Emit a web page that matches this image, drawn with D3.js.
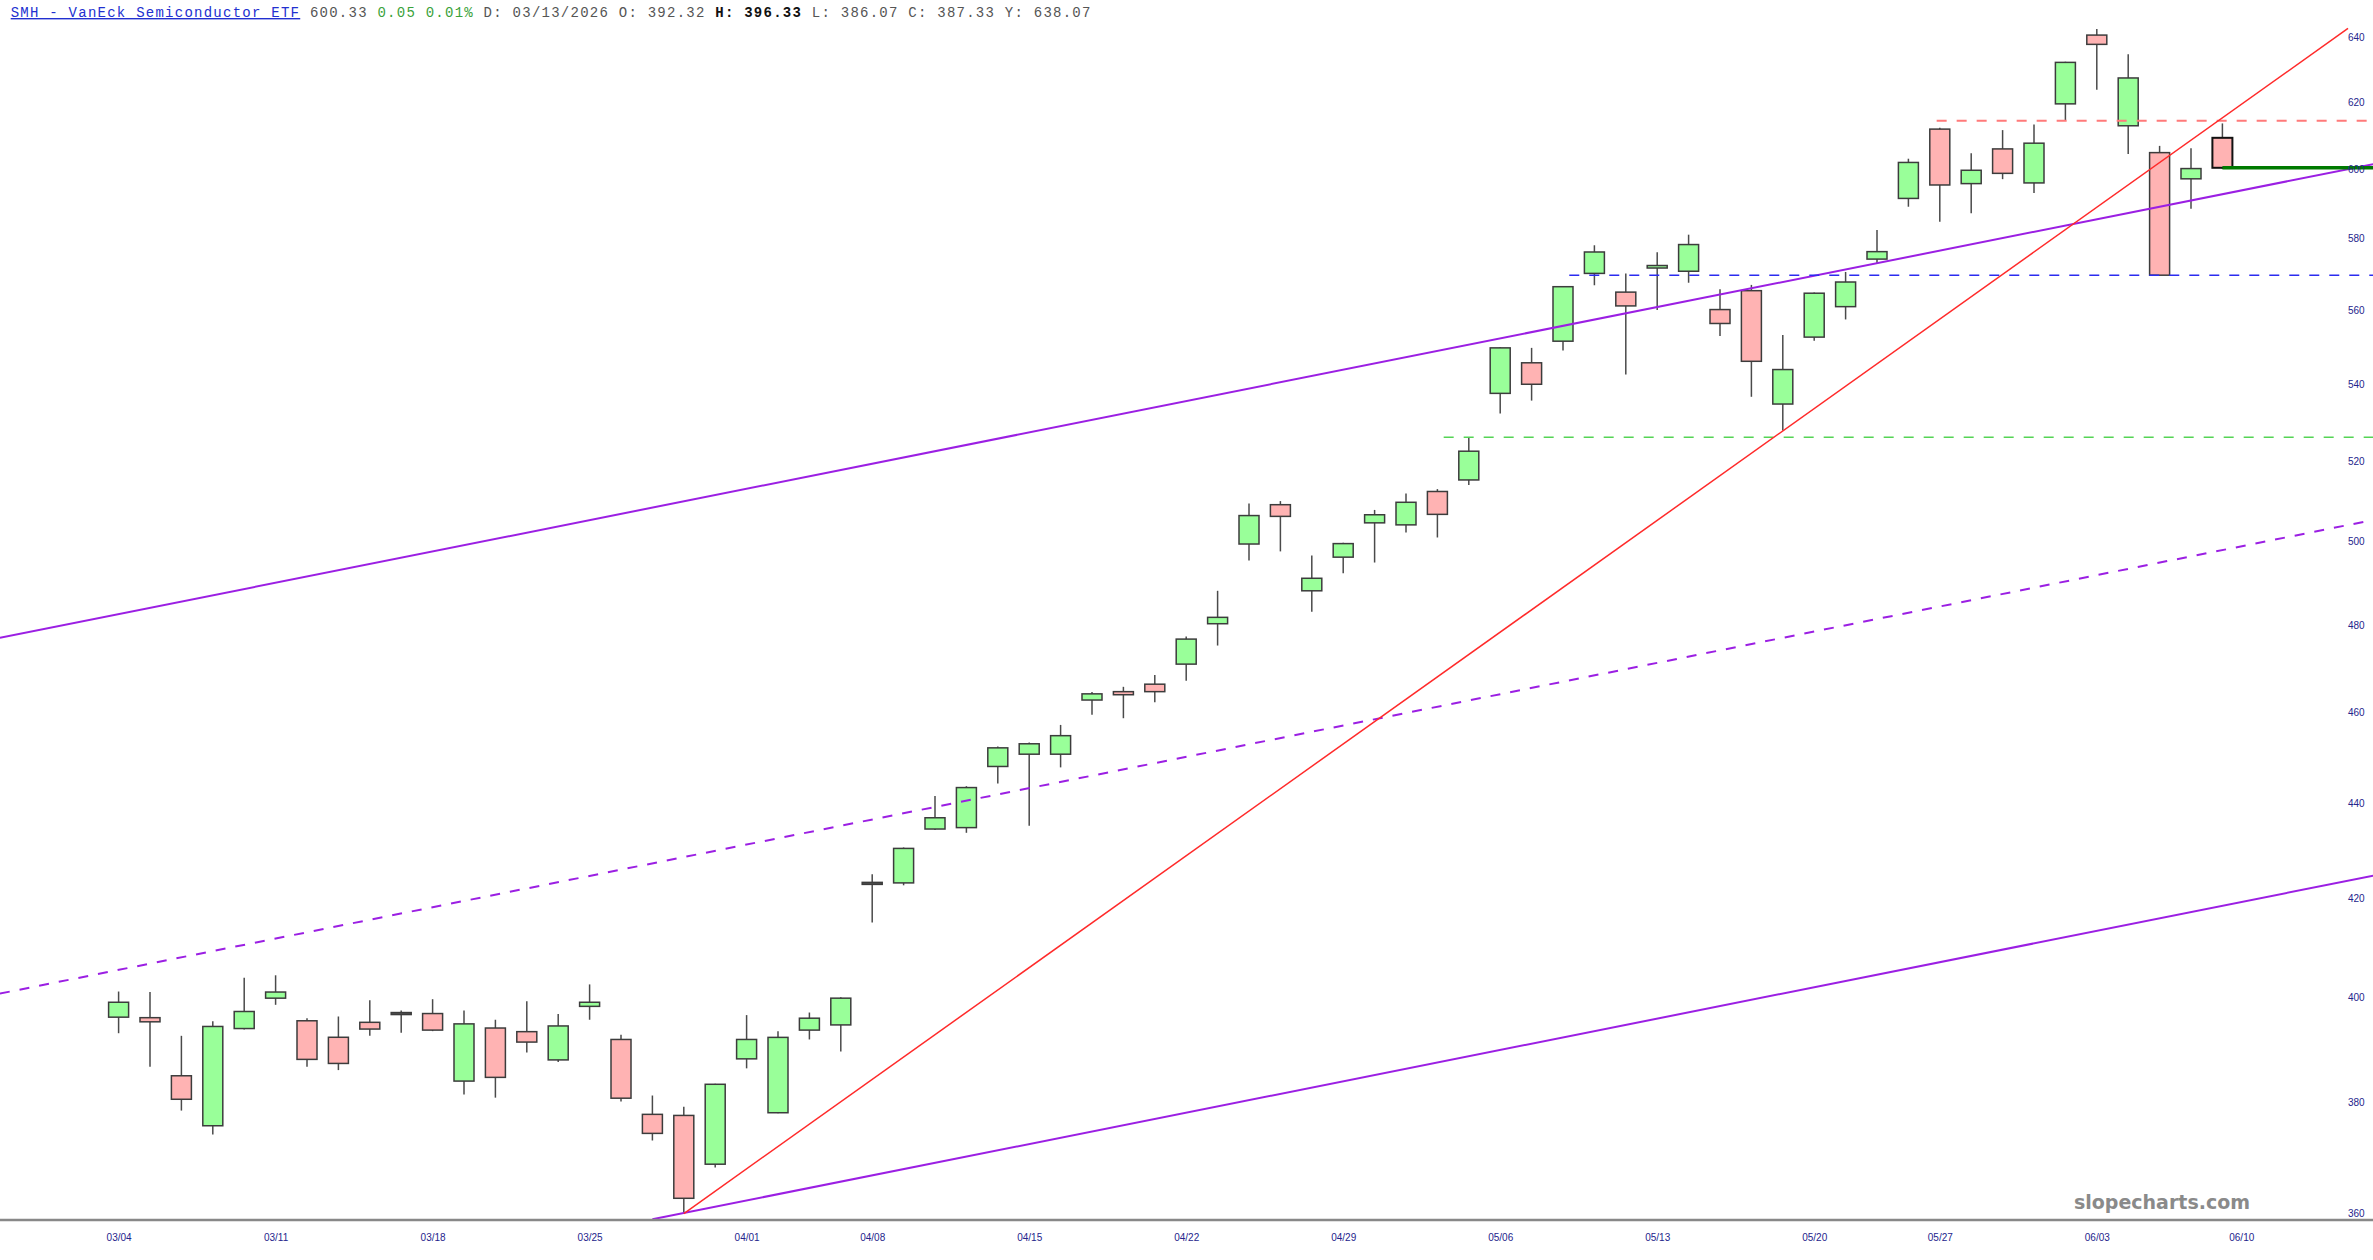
<!DOCTYPE html>
<html>
<head>
<meta charset="utf-8">
<script src="https://cdn.jsdelivr.net/npm/d3@7/dist/d3.min.js"></script>
<style>
  body { margin: 0; background: #fff; }
  svg { display: block; }
</style>
</head>
<body>
<div id="chart"></div>
<script>
// daily bars
var dates = ['03/04','03/05','03/06','03/09','03/10','03/11','03/12','03/13','03/16','03/17',
             '03/18','03/19','03/20','03/23','03/24','03/25','03/26','03/27','03/30','03/31',
             '04/01','04/02','04/06','04/07','04/08','04/09','04/10','04/13','04/14','04/15',
             '04/16','04/17','04/20','04/21','04/22','04/23','04/24','04/27','04/28','04/29',
             '04/30','05/01','05/04','05/05','05/06','05/07','05/08','05/11','05/12','05/13',
             '05/14','05/15','05/18','05/19','05/20','05/21','05/22','05/26','05/27','05/28',
             '05/29','06/01','06/02','06/03','06/04','06/05','06/08','06/09'];
var opens  = [396.2,396.1,385.0,375.7,394.0,399.9,395.5,392.32,395.2,397.1,
              396.9,384.0,394.1,393.4,388.0,398.3,391.9,377.8,377.6,368.7,
              388.2,378.1,393.7,394.7,423.0,423.1,434.4,434.7,447.9,450.6,
              450.6,462.7,464.6,466.3,470.9,480.3,499.4,509.1,488.1,496.2,
              504.6,504.1,512.4,515.3,537.6,545.7,551.5,570.1,564.9,571.6,
              570.7,560.1,565.3,534.8,552.6,560.9,574.1,591.4,611.8,595.7,
              605.9,595.9,619.4,640.6,612.8,604.8,597.1,609.2];
var highs  = [401.2,401.1,392.6,395.4,403.9,404.4,396.0,396.33,399.5,397.5,
              399.7,397.5,395.7,399.3,396.8,402.6,392.8,381.3,379.2,383.5,
              396.6,393.5,397.1,400.1,424.9,430.5,441.5,443.6,452.3,453.2,
              457.1,464.5,465.7,468.4,477.3,488.1,509.4,510.0,496.6,499.7,
              507.8,511.9,513.0,526.2,549.9,549.7,566.6,578.0,570.1,576.0,
              581.0,565.7,566.9,553.2,564.8,570.5,582.3,603.0,612.2,604.6,
              611.5,613.2,632.3,642.5,634.6,606.8,606.1,613.5];
var lows   = [393.1,386.7,378.5,374.1,393.8,398.6,386.7,386.07,392.6,393.2,
              393.5,381.5,380.9,389.4,387.6,395.7,380.2,373.0,359.9,368.1,
              386.4,378.0,391.9,389.6,415.0,422.6,434.2,433.6,444.2,435.1,
              447.7,459.4,458.6,462.2,467.1,475.2,495.4,497.6,483.1,492.3,
              494.9,502.2,501.0,514.0,532.3,535.7,549.0,566.8,542.6,560.0,
              567.5,552.9,536.7,527.9,551.6,557.4,572.9,589.0,584.7,587.1,
              597.0,593.0,614.5,623.7,604.4,569.6,588.4,600.0];
var closes = [399.1,395.3,380.6,394.4,397.3,401.1,388.1,387.33,393.9,396.9,
              393.7,394.9,384.7,391.4,394.5,399.1,380.8,374.3,362.6,383.4,
              391.9,392.3,396.0,399.9,423.0,430.3,436.8,443.3,452.0,452.9,
              454.7,464.1,463.9,464.6,476.7,481.8,506.4,506.2,491.1,499.5,
              506.6,509.7,506.7,522.6,549.7,540.0,566.4,576.1,561.1,572.3,
              578.2,556.3,546.1,543.9,564.6,567.7,576.2,601.9,595.3,599.6,
              598.7,607.6,632.1,637.7,627.3,569.6,600.1,600.33];

var yTicks = [360,380,400,420,440,460,480,500,520,540,560,580,600,620,640];
var xTickLabels = ['03/04','03/11','03/18','03/25','04/01','04/08','04/15','04/22',
                   '04/29','05/06','05/13','05/20','05/27','06/03','06/10'];
var xTickIndex = [0,5,10,15,20,24,29,34,39,44,49,54,58,63,67.6];

// drawn studies: [startIndex, startPrice, endIndex, endPrice]
var channelTop    = [-3.78, 477.0, 71.8, 601.4];
var channelMid    = [-3.78, 400.8, 71.8, 505.3];
var channelBottom = [17, 358.9, 71.8, 424.6];
var redTrend      = [18, 359.9, 71.0, 642.7];
var blueLevel     = [46.2, 569.6, 71.8, 569.6];
var greenLevel    = [42.2, 526.2, 71.8, 526.2];
var redLevel      = [57.9, 614.3, 71.8, 614.3];
var lastPrice     = [67, 600.33, 71.8, 600.33];

var W = 2373, H = 1260, plotBottom = 1220;

var svg = d3.select('#chart').append('svg')
    .attr('width', W)
    .attr('height', H);

var xScale = d3.scaleLinear()
    .domain([0, 68])
    .range([118.6, 2253.8]);
var yScale = d3.scaleLog()
    .domain([360, 640])
    .range([1213, 37]);

svg.append('clipPath')
    .attr('id', 'plot-clip')
  .append('rect')
    .attr('x', 0).attr('y', 0)
    .attr('width', W).attr('height', plotBottom);

// candles
var candles = dates.map(function(d, i) {
  return {i: i, date: d, o: opens[i], h: highs[i], l: lows[i], c: closes[i]};
});
var bodyW = 20;
var last = candles.length - 1;

let cg = svg.append('g').attr('class', 'candles');
cg.selectAll('line.wick')
    .data(candles)
  .enter().append('line')
    .attr('class', 'wick')
    .attr('x1', d => xScale(d.i)).attr('x2', d => xScale(d.i))
    .attr('y1', d => yScale(d.h)).attr('y2', d => yScale(d.l))
    .attr('stroke', '#4a4a4a')
    .attr('stroke-width', 1.5);

function isDoji(d) { return Math.abs(yScale(d.o) - yScale(d.c)) < 2; }

cg.selectAll('rect.body')
    .data(candles)
  .enter().append('rect')
    .attr('class', 'body')
    .attr('x', d => xScale(d.i) - bodyW / 2)
    .attr('y', d => isDoji(d) ? yScale(d.c) - 1 : yScale(Math.max(d.o, d.c)))
    .attr('width', bodyW)
    .attr('height', d => isDoji(d) ? 2 : Math.abs(yScale(d.o) - yScale(d.c)))
    .attr('fill', function(d) {
      if (isDoji(d)) return '#555';
      return d.c >= d.o ? '#99ff99' : '#ffb3b3';
    })
    .attr('stroke', d => d.i == last ? '#111' : '#3c3c3c')
    .attr('stroke-width', d => d.i == last ? 2 : 1.5);

// trend lines & levels
var studies = [
  {p: channelTop, color: '#9b1fe3', width: 2, dash: null},
  {p: channelMid, color: '#9b1fe3', width: 2, dash: '10,10'},
  {p: channelBottom, color: '#9b1fe3', width: 2, dash: null},
  {p: blueLevel, color: '#2b2bf0', width: 1.5, dash: '10,10'},
  {p: greenLevel, color: '#55d455', width: 1.5, dash: '10,10'},
  {p: redLevel, color: '#ff7a7a', width: 2, dash: '10,10'},
  {p: redTrend, color: '#ff2a2a', width: 1.5, dash: null},
  {p: lastPrice, color: '#007a00', width: 3.5, dash: null}
];
var line = d3.line()
    .x(d => xScale(d[0]))
    .y(d => yScale(d[1]));

svg.append('g')
    .attr('clip-path', 'url(#plot-clip)')
  .selectAll('path')
    .data(studies)
  .enter().append('path')
    .attr('d', d => line([[d.p[0], d.p[1]], [d.p[2], d.p[3]]]))
    .attr('fill', 'none')
    .attr('stroke', d => d.color)
    .attr('stroke-width', d => d.width)
    .attr('stroke-dasharray', d => d.dash);

// axes
svg.append('line')
    .attr('x1', 0).attr('x2', W)
    .attr('y1', plotBottom).attr('y2', plotBottom)
    .attr('stroke', '#888')
    .attr('stroke-width', 2.5);

let yaxis = d3.axisRight(yScale)
    .tickValues(yTicks)
    .tickSize(0)
    .tickPadding(0)
    .tickFormat(d3.format('d'));
let yg = svg.append('g')
    .attr('transform', 'translate(2348,0)')
    .call(yaxis);
yg.select('.domain').remove();
yg.selectAll('text')
    .style('font', "10px 'Liberation Sans', sans-serif")
    .attr('fill', '#24248c');

let xaxis = d3.axisBottom(xScale)
    .tickValues(xTickIndex)
    .tickSize(0)
    .tickPadding(14)
    .tickFormat((d, i) => xTickLabels[i]);
let xg = svg.append('g')
    .attr('transform', 'translate(0,' + plotBottom + ')')
    .call(xaxis);
xg.select('.domain').remove();
xg.selectAll('text')
    .style('font', "10px 'Liberation Sans', sans-serif")
    .attr('fill', '#24248c');

// watermark
svg.append('text')
    .attr('x', 2162).attr('y', 1209)
    .attr('text-anchor', 'middle')
    .style('font', "bold 19px 'DejaVu Sans', sans-serif")
    .attr('fill', '#8a8a8a')
    .text('slopecharts.com');

// header
var header = [
  {t: 'SMH - VanEck Semiconductor ETF', fill: '#2230d0', deco: 'underline'},
  {t: ' 600.33', fill: '#555'},
  {t: ' 0.05 0.01%', fill: '#3aa23a'},
  {t: ' D: 03/13/2026 O: 392.32', fill: '#555'},
  {t: ' H: 396.33', fill: '#111', weight: 'bold'},
  {t: ' L: 386.07 C: 387.33 Y: 638.07', fill: '#555'}
];
svg.append('text')
    .attr('x', 10.7).attr('y', 17)
    .style('font', "14px 'Liberation Mono', monospace")
    .style('letter-spacing', '1.25px')
    .attr('xml:space', 'preserve')
    .style('white-space', 'pre')
  .selectAll('tspan')
    .data(header)
  .enter().append('tspan')
    .attr('fill', d => d.fill)
    .style('text-decoration', d => d.deco || null)
    .style('font-weight', d => d.weight || null)
    .text(d => d.t);
</script>
</body>
</html>
